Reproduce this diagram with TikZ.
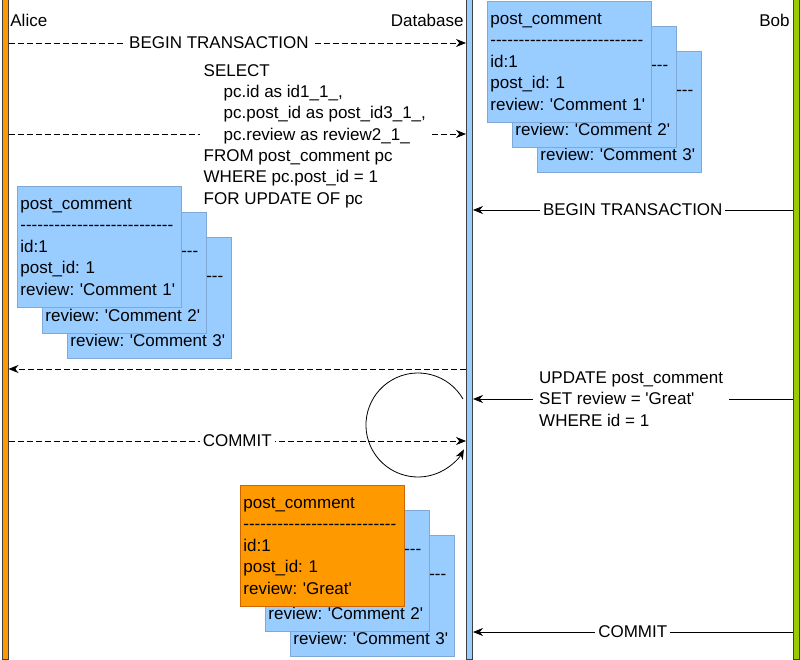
\documentclass[tikz,border=0pt]{standalone}
\usepackage{fontspec}
\setmainfont{Liberation Sans}[Ligatures=TeXOff]
\usetikzlibrary{arrows.meta}
\tikzset{every path/.style={thick}}
\frenchspacing
\definecolor{aliceorange}{HTML}{FF9900}
\definecolor{dbblue}{HTML}{99CCFF}
\definecolor{bobgreen}{HTML}{99CC00}
\definecolor{boxline}{HTML}{7FA8D6}
\newcommand{\pcrule}{---------------------------}
\newcommand{\pcback}[1]{\phantom{post\_comment}\\\pcrule\\\phantom{id:1}\\\phantom{post\_id: 1}\\#1}
\tikzset{
  lifeline/.style={draw=black!75,line width=1pt,minimum width=6pt,minimum height=659pt,inner sep=0pt},
  pcbox/.style={draw=boxline,fill=dbblue,anchor=north west,text width=158pt,minimum height=121pt,inner xsep=3pt,inner ysep=7pt,align=left,font=\fontsize{17}{21.5}\selectfont},
  alicemsg/.style={-{Stealth[length=10pt,width=8pt]},dash pattern=on 6pt off 3pt},
  bobmsg/.style={-{Stealth[length=10pt,width=8pt]}},
  msglabel/.style={fill=white,inner sep=3pt}
}

\begin{document}
\begin{tikzpicture}[x=1pt,y=1pt,font=\fontsize{17}{21.3}\selectfont]
\useasboundingbox (0,0) rectangle (800,659);
\node[lifeline,fill=aliceorange] (alice) at (5,329.5) {};
\node[lifeline,fill=dbblue] (db) at (469.5,329.5) {};
\node[lifeline,fill=bobgreen] (bob) at (796,329.5) {};
\node[anchor=west,inner sep=1pt] (alicename) at (9,639) {Alice};
\node[anchor=east,inner sep=1pt] (dbname) at (465,639) {Database};
\node[anchor=east,inner sep=1pt] (bobname) at (791,639) {Bob};

\draw[alicemsg] (alice.east |- 0,616) -- node[msglabel,pos=0.46] (begina) {BEGIN TRANSACTION} (db.west |- 0,616);
\draw[alicemsg] (alice.east |- 0,525) -- node[msglabel,pos=0.417,anchor=west,inner xsep=4pt,align=left,yshift=-2pt] (select) {SELECT\\
\hspace*{20pt}pc.id as id1\_1\_,\\
\hspace*{20pt}pc.post\_id as post\_id3\_1\_,\\
\hspace*{20pt}pc.review as review2\_1\_\\
FROM post\_comment pc\\
WHERE pc.post\_id = 1\\
FOR UPDATE OF pc} (db.west |- 0,525);
\draw[bobmsg] (bob.west |- 0,449) -- node[msglabel,midway] (beginb) {BEGIN TRANSACTION} (db.east |- 0,449);
\draw[alicemsg] (db.west |- 0,290) -- (alice.east |- 0,290);
\draw[bobmsg] (bob.west |- 0,260) -- node[msglabel,pos=0.505,inner xsep=6pt,align=left] (update) {UPDATE post\_comment\\
SET review = 'Great'\\
WHERE id = 1} (db.east |- 0,260);
\draw[alicemsg] (alice.east |- 0,218) -- node[msglabel,midway] (commita) {COMMIT} (db.west |- 0,218);
\draw[bobmsg] (bob.west |- 0,27) -- node[msglabel,midway] (commitb) {COMMIT} (db.east |- 0,27);
\coordinate (loopstart) at (463,260);
\draw[bobmsg] (loopstart) arc[start angle=30,end angle=332,radius=52];

\node[pcbox] (pctop3) at (537,608) {\pcback{review: 'Comment 3'}};
\node[pcbox] (pctop2) at (512,633) {\pcback{review: 'Comment 2'}};
\node[pcbox] (pctop1) at (487,658) {post\_comment\\\pcrule\\id:1\\post\_id: 1\\review: 'Comment 1'};

\node[pcbox] (pcleft3) at (67,422) {\pcback{review: 'Comment 3'}};
\node[pcbox] (pcleft2) at (42,447) {\pcback{review: 'Comment 2'}};
\node[pcbox] (pcleft1) at (17,473) {post\_comment\\\pcrule\\id:1\\post\_id: 1\\review: 'Comment 1'};

\node[pcbox] (pcbot3) at (290,124) {\pcback{review: 'Comment 3'}};
\node[pcbox] (pcbot2) at (265,149) {\pcback{review: 'Comment 2'}};
\node[pcbox,fill=aliceorange,draw=orange!80!black] (pcbot1) at (240,174) {post\_comment\\\pcrule\\id:1\\post\_id: 1\\review: 'Great'};
\end{tikzpicture}
\end{document}
